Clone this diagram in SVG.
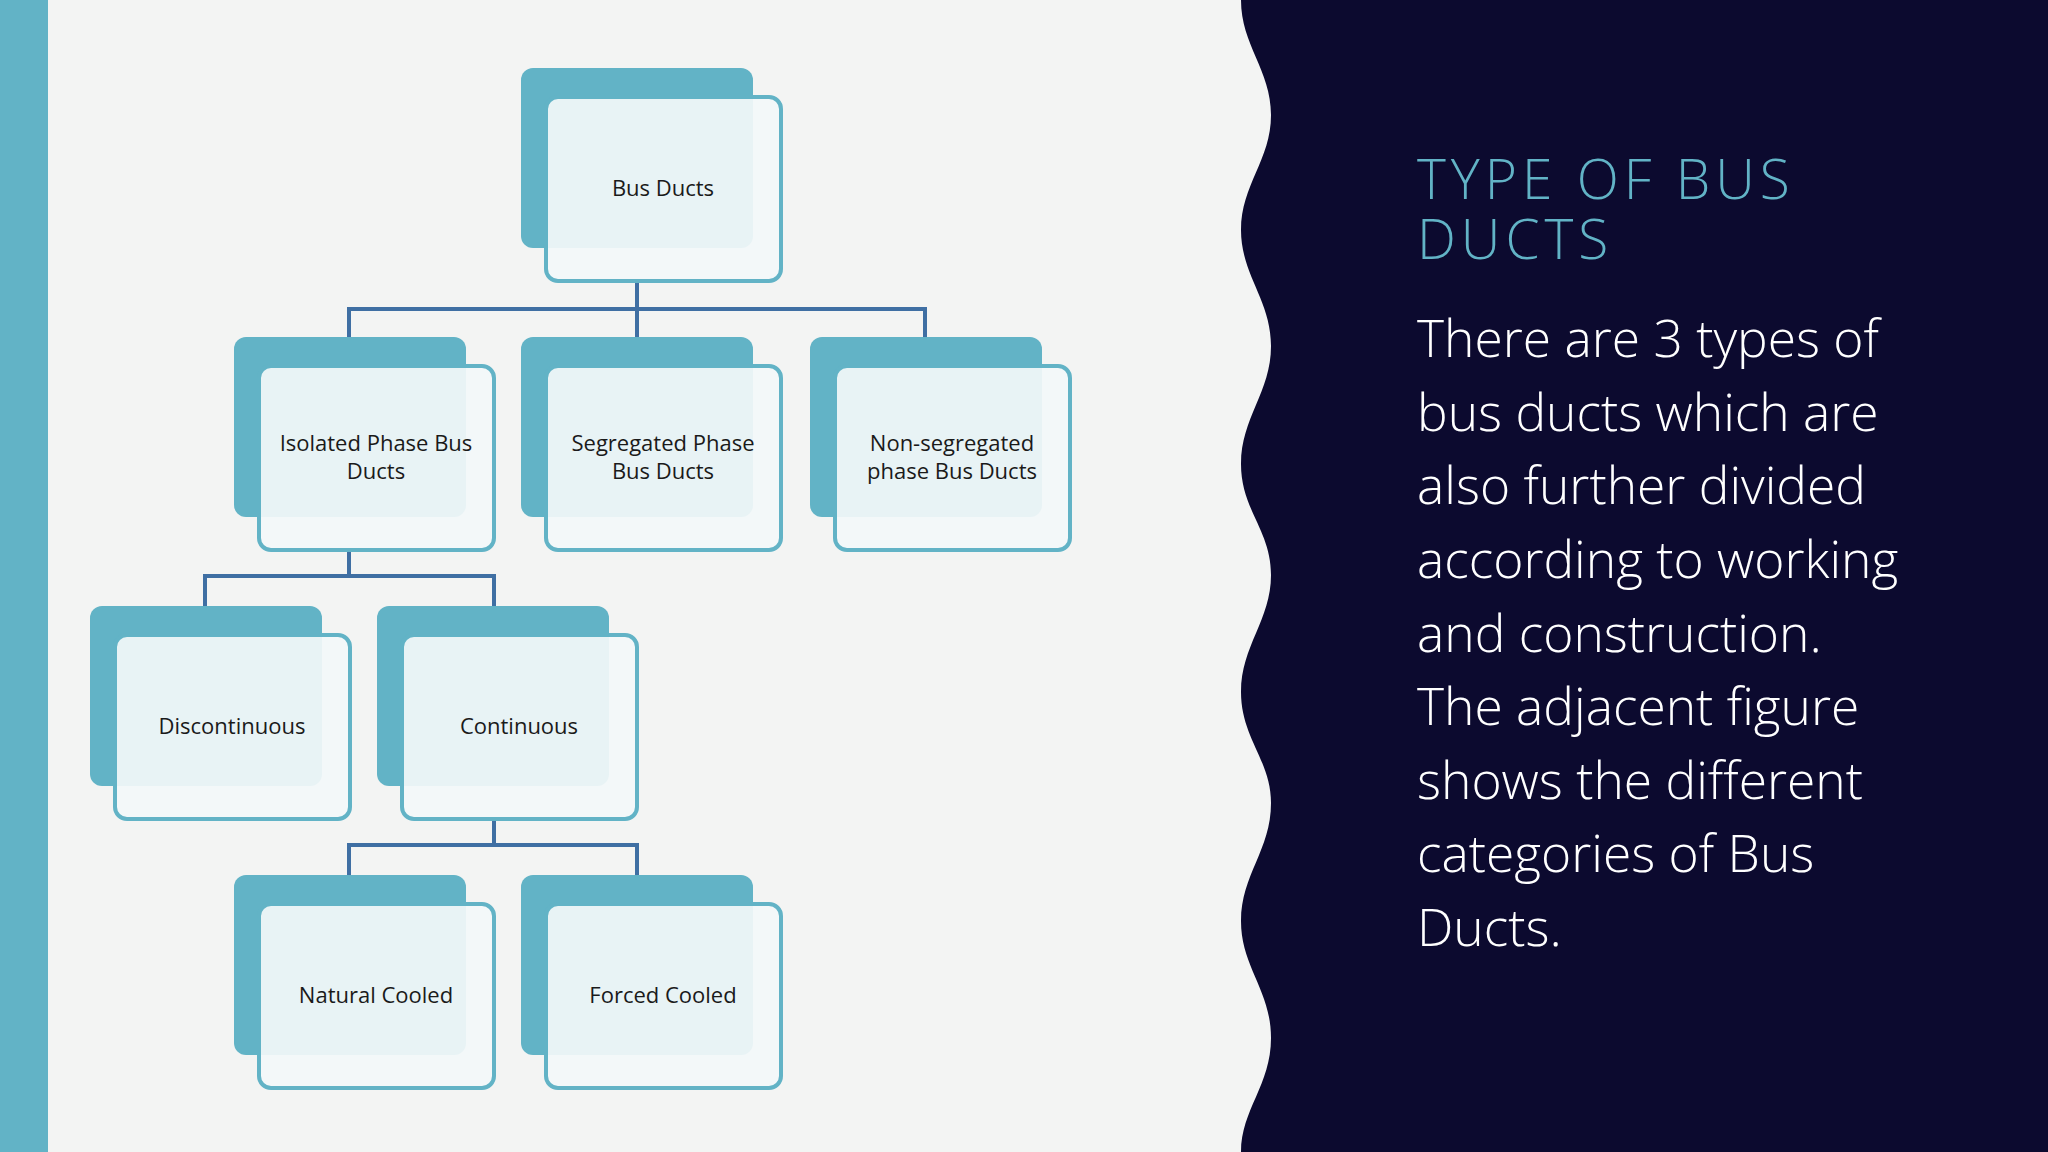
<svg xmlns="http://www.w3.org/2000/svg" width="2048" height="1152" viewBox="0 0 2048 1152">
<style>
.bk{fill:#62b3c6}
.fr{fill:#f2f8f9;fill-opacity:0.93;stroke:#62b3c6;stroke-width:4}
.lb{font-family:"Open Sans","Noto Sans",sans-serif;font-size:22px;fill:#1a1a1a;text-anchor:middle}
.cn{fill:none;stroke:#3f6fa3;stroke-width:4}
.tt{font-family:"Open Sans","Noto Sans",sans-serif;font-weight:300;font-size:55px;fill:#62b3c6;letter-spacing:5px}
.bd{font-family:"Open Sans","Noto Sans",sans-serif;font-weight:300;font-size:51.5px;fill:#ffffff}
</style>
<defs>
<g id="card"><rect class="bk" x="0" y="0" width="232" height="180" rx="12"/><rect class="fr" x="25" y="29" width="235" height="184" rx="12"/></g>
</defs>
<rect width="2048" height="1152" fill="#f3f4f3"/>
<rect width="48" height="1152" fill="#62b3c6"/>
<path d="M1241,0 C1241,45 1271,70 1271,115 C1271,160 1241,185 1241,230 C1241,275 1271,300 1271,346 C1271,392 1241,418 1241,464 C1241,510 1271,530 1271,575 C1271,620 1241,646 1241,692 C1241,738 1271,760 1271,803 C1271,850 1241,875 1241,921 C1241,967 1271,990 1271,1038 C1271,1085 1241,1110 1241,1152 L2048,1152 L2048,0 Z" fill="#0c0a2f"/>
<g id="connectors">
<path class="cn" d="M637,281 V309 M349,337 V309 H925 V337 M637,309 V337"/>
<path class="cn" d="M349,550 V576 M205,606 V576 H494 V606"/>
<path class="cn" d="M494,819 V845 M349,875 V845 H637 V875"/>
</g>
<g id="n-busducts"><use href="#card" x="521" y="68"/><text class="lb" x="663" y="196">Bus Ducts</text></g>
<g id="n-isolated"><use href="#card" x="234" y="337"/><text class="lb" x="376" y="451">Isolated Phase Bus</text><text class="lb" x="376" y="479">Ducts</text></g>
<g id="n-segregated"><use href="#card" x="521" y="337"/><text class="lb" x="663" y="451">Segregated Phase</text><text class="lb" x="663" y="479">Bus Ducts</text></g>
<g id="n-nonseg"><use href="#card" x="810" y="337"/><text class="lb" x="952" y="451">Non-segregated</text><text class="lb" x="952" y="479">phase Bus Ducts</text></g>
<g id="n-discontinuous"><use href="#card" x="90" y="606"/><text class="lb" x="232" y="734">Discontinuous</text></g>
<g id="n-continuous"><use href="#card" x="377" y="606"/><text class="lb" x="519" y="734">Continuous</text></g>
<g id="n-natural"><use href="#card" x="234" y="875"/><text class="lb" x="376" y="1003">Natural Cooled</text></g>
<g id="n-forced"><use href="#card" x="521" y="875"/><text class="lb" x="663" y="1003">Forced Cooled</text></g>
<text class="tt" x="1417" y="199">TYPE OF BUS</text>
<text class="tt" x="1417" y="259">DUCTS</text>
<text class="bd" x="1417" y="357">There are 3 types of</text>
<text class="bd" x="1417" y="431">bus ducts which are</text>
<text class="bd" x="1417" y="504">also further divided</text>
<text class="bd" x="1417" y="578">according to working</text>
<text class="bd" x="1417" y="652">and construction.</text>
<text class="bd" x="1417" y="725">The adjacent figure</text>
<text class="bd" x="1417" y="799">shows the different</text>
<text class="bd" x="1417" y="872">categories of Bus</text>
<text class="bd" x="1417" y="946">Ducts.</text>
</svg>
